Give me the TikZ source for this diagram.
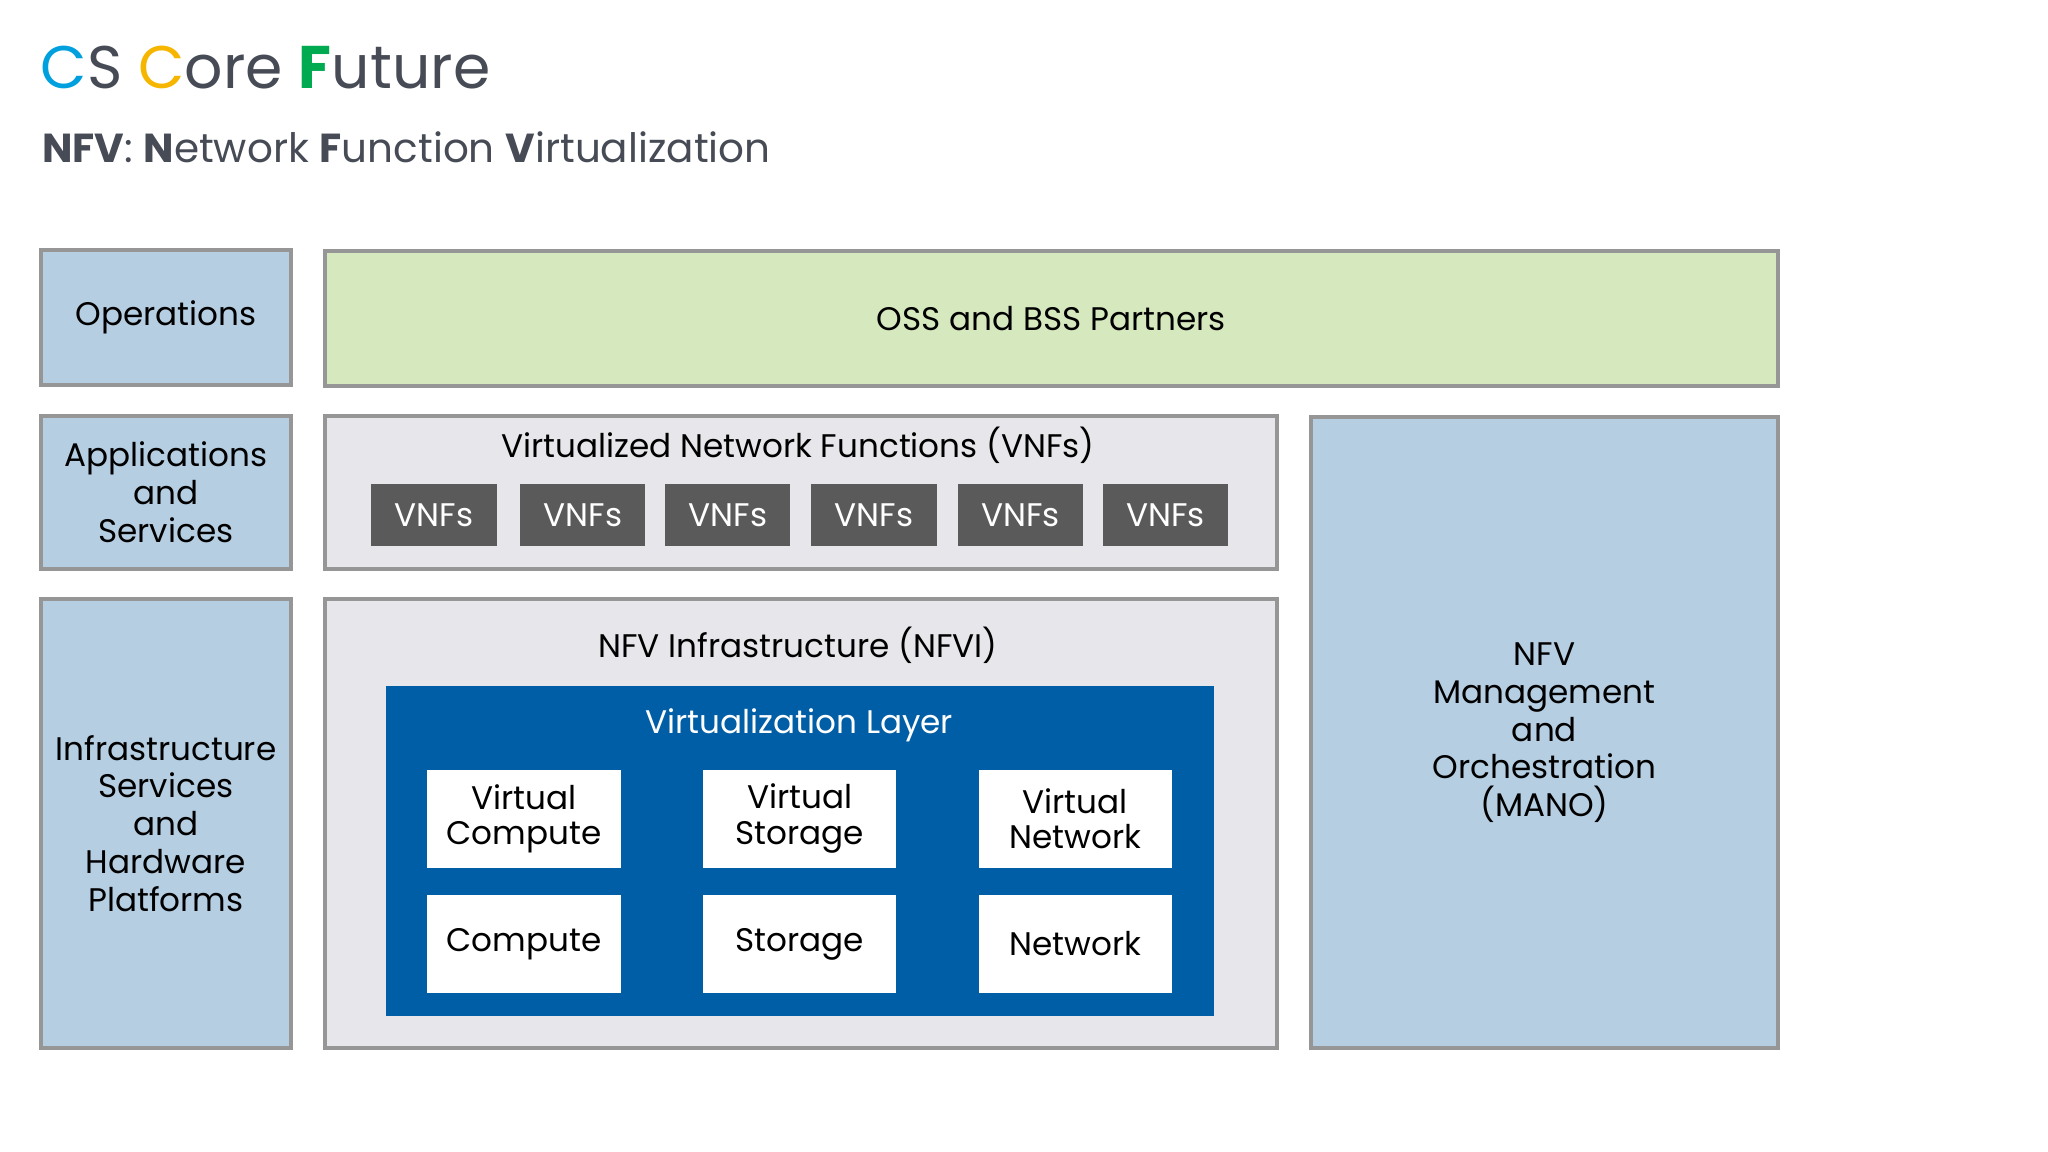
\documentclass[tikz,border=0pt]{standalone}
\usepackage{fontspec}
\setmainfont{Poppins}
\definecolor{lblue}{RGB}{181,206,226}
\definecolor{lgreen}{RGB}{214,232,190}
\definecolor{lgray}{RGB}{231,231,235}
\definecolor{bord}{RGB}{150,150,150}
\definecolor{dgray}{RGB}{90,90,90}
\definecolor{vblue}{RGB}{0,94,166}
\definecolor{tblue}{RGB}{0,160,222}
\definecolor{tyel}{RGB}{246,182,0}
\definecolor{tgreen}{RGB}{0,170,80}
\definecolor{tgray}{RGB}{70,75,85}
\begin{document}
\begin{tikzpicture}[x=1pt,y=-1pt,
  box/.style={draw=bord,line width=3pt,inner sep=0pt,align=center,font=\fontsize{25}{29}\selectfont},
  vnf/.style={fill=dgray,text=white,minimum width=96pt,minimum height=48pt,inner sep=0pt,font=\fontsize{25}{29}\selectfont,anchor=north west},
  wb/.style={fill=white,minimum width=148pt,minimum height=75pt,inner sep=0pt,align=center,font=\fontsize{25}{27}\selectfont,anchor=north west}]
\useasboundingbox (0,0) rectangle (1568,882);
\fill[white] (0,0) rectangle (1568,882);
\node[anchor=west,inner sep=0pt,font=\fontsize{46}{50}\selectfont] (t) at (31,52)
 {\textcolor{tblue}{C}\textcolor{tgray}{S} \textcolor{tyel}{C}\textcolor{tgray}{ore} \textcolor{tgreen}{\bfseries F}\textcolor{tgray}{uture}};
\node[anchor=west,inner sep=0pt,text=tgray,font=\fontsize{31}{34}\selectfont] (st) at (32,113)
 {\textbf{NFV}: \textbf{N}etwork \textbf{F}unction \textbf{V}irtualization};
\node[box,fill=lblue,minimum width=191pt,minimum height=103pt,anchor=north west] (op) at (30,190) {Operations};
\node[box,fill=lgreen,minimum width=1113pt,minimum height=103pt,anchor=north west] (oss) at (247,191) {OSS and BSS Partners};
\node[box,fill=lblue,minimum width=191pt,minimum height=117pt,anchor=north west] (app) at (30,317) {Applications\\and\\Services};
\node[box,fill=lgray,minimum width=729pt,minimum height=117pt,anchor=north west] (vnfc) at (247,317) {};
\node[font=\fontsize{25}{29}\selectfont] (vnft) at (611,341) {Virtualized Network Functions (VNFs)};
\foreach \x/\n in {284/1,398/2,509/3,621/4,733/5,844/6}
  \node[vnf] (v\n) at (\x,370) {VNFs};
\node[box,fill=lblue,minimum width=191pt,minimum height=344pt,anchor=north west] (inf) at (30,457) {Infrastructure\\Services\\and\\Hardware\\Platforms};
\node[box,fill=lgray,minimum width=729pt,minimum height=344pt,anchor=north west] (nfvi) at (247,457) {};
\node[font=\fontsize{25}{29}\selectfont] (nfvit) at (611,494) {NFV Infrastructure (NFVI)};
\node[fill=vblue,minimum width=634pt,minimum height=253pt,inner sep=0pt,anchor=north west] (vl) at (295,525) {};
\node[text=white,font=\fontsize{25}{29}\selectfont] (vlt) at (612,555) {Virtualization Layer};
\node[wb] (vc) at (327,589) {Virtual\\Compute};
\node[wb] (vs) at (538,589) {Virtual\\Storage};
\node[wb] (vn) at (749,589) {Virtual\\Network};
\node[wb] (c) at (327,685) {Compute};
\node[wb] (s) at (538,685) {Storage};
\node[wb] (n) at (749,685) {Network};
\node[box,fill=lblue,minimum width=358pt,minimum height=483pt,anchor=north west] (mano) at (1002,318) {NFV\\Management\\and\\Orchestration\\(MANO)};
\end{tikzpicture}
\end{document}
